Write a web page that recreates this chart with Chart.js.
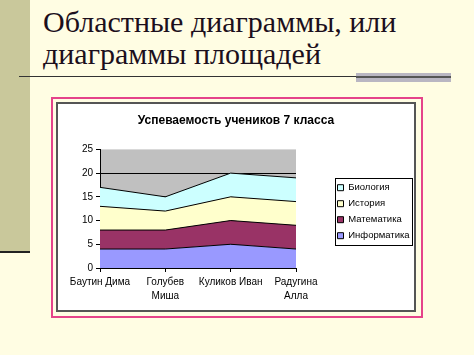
<!DOCTYPE html>
<html>
<head>
<meta charset="utf-8">
<script src="https://cdn.jsdelivr.net/npm/chart.js@4.4.1/dist/chart.umd.min.js"></script>
<style>
    html, body { margin: 0; padding: 0; }
    body { width: 474px; height: 355px; background: #fffde3; position: relative; overflow: hidden; }
    #side-bar { position: absolute; left: 0; top: 0; width: 30px; height: 251px; background: #c9c89b; border-bottom: 2px solid #222; }
    #slide-title { position: absolute; left: 43px; top: 6px; margin: 0; font-family: "Liberation Serif", "DejaVu Serif", serif; font-weight: normal; font-size: 30px; line-height: 32px; color: #1c0f1c; }
    #title-rule { position: absolute; left: 19px; top: 76px; width: 432px; height: 1px; background: #333; }
    #title-bar { position: absolute; left: 356px; top: 73px; width: 95px; height: 9px; background: #b9b6c2; }
    #title-bar-line { position: absolute; left: 356px; top: 76px; width: 95px; height: 2px; background: #555; }
    #frame { position: absolute; left: 51px; top: 97px; width: 372px; height: 221px; border: 2px solid #e5438a; box-sizing: border-box; }
    #chart-box { position: absolute; left: 56px; top: 102px; width: 360px; height: 210px; border: 2px solid #555; box-sizing: border-box; background: #fff; }
    #chart { position: absolute; left: 0; top: 0; }
</style>
</head>
<body>
<div id="side-bar"></div>
<div id="slide-title">Областные диаграммы, или<br>диаграммы площадей</div>
<div id="title-rule"></div>
<div id="title-bar"></div>
<div id="title-bar-line"></div>
<div id="frame"></div>
<div id="chart-box"><canvas id="chart" width="356" height="206"></canvas></div>
<script>
const students = [['Баутин Дима'], ['Голубев', 'Миша'], ['Куликов Иван'], ['Радугина', 'Алла']];
const informatika = [4, 4, 5, 4];
const matematika = [4, 4, 5, 5];
const istoriya = [5, 4, 5, 5];
const biologiya = [4, 3, 5, 5];
const yTicks = [0, 5, 10, 15, 20, 25];

const FONT = 'Arial, "Liberation Sans", sans-serif';

// grey plot background like the Excel chart
const plotBackground = {
    id: 'plotBackground',
    beforeDraw(chart) {
        const { ctx, chartArea } = chart;
        ctx.save();
        ctx.fillStyle = '#c0c0c0';
        ctx.fillRect(chartArea.left, chartArea.top, chartArea.right - chartArea.left, chartArea.bottom - chartArea.top);
        ctx.restore();
    }
};

// centre the title on the whole canvas, move the legend right of the plot and frame it
const legendBox = {
    id: 'legendBox',
    afterLayout(chart) {
        const title = chart.titleBlock;
        title.left = 0;
        title.right = chart.width;
        title.width = chart.width;

        const legend = chart.legend;
        const area = chart.chartArea;
        legend.left = area.right + 35;
        legend.right = legend.left + legend.width;
        legend.top = area.top + 3;
        legend.bottom = area.bottom + 3;
        legend.height = legend.bottom - legend.top;
    },
    afterDraw(chart) {
        const boxes = chart.legend.legendHitBoxes;
        if (!boxes || !boxes.length) return;
        const left = Math.min(...boxes.map(b => b.left)) - 3;
        const top = Math.min(...boxes.map(b => b.top)) - 5;
        const right = Math.max(...boxes.map(b => b.left + b.width)) + 2;
        const bottom = Math.max(...boxes.map(b => b.top + b.height)) + 5;
        const ctx = chart.ctx;
        ctx.save();
        ctx.strokeStyle = '#000';
        ctx.lineWidth = 1;
        ctx.strokeRect(Math.round(left) + 0.5, Math.round(top) + 0.5, Math.round(right - left), Math.round(bottom - top));
        ctx.restore();
    }
};

function series(label, data, color, fill) {
    return {
        label: label,
        data: data,
        backgroundColor: color,
        borderColor: '#000',
        borderWidth: 1,
        fill: fill,
        tension: 0,
        pointRadius: 0
    };
}

new Chart(document.getElementById('chart'), {
    type: 'line',
    data: {
        labels: students,
        datasets: [
            series('Информатика', informatika, '#9999ff', 'origin'),
            series('Математика', matematika, '#993366', '-1'),
            series('История', istoriya, '#ffffcc', '-1'),
            series('Биология', biologiya, '#ccffff', '-1')
        ]
    },
    options: {
        responsive: false,
        animation: false,
        layout: { padding: { left: 0, right: 118, top: 0, bottom: 0 } },
        plugins: {
            title: {
                display: true,
                text: 'Успеваемость учеников 7 класса',
                color: '#000',
                font: { family: FONT, size: 12, weight: 'bold' },
                padding: { top: 9, bottom: 22 }
            },
            legend: {
                position: 'chartArea',
                reverse: true,
                labels: {
                    color: '#000',
                    font: { family: FONT, size: 9.5 },
                    boxWidth: 6,
                    boxHeight: 6,
                    padding: 6.5
                }
            },
            tooltip: { enabled: false }
        },
        scales: {
            x: {
                offset: false,
                grid: { drawOnChartArea: false, color: '#000', tickLength: 4 },
                border: { color: '#000', width: 1 },
                ticks: {
                    color: '#000',
                    maxRotation: 0,
                    autoSkip: false,
                    padding: 3,
                    font: { family: FONT, size: 10, lineHeight: 1.4 }
                },
                afterFit(scale) { scale.height = 42; }
            },
            y: {
                stacked: true,
                min: 0,
                max: 25,
                afterBuildTicks(scale) { scale.ticks = yTicks.map(v => ({ value: v })); },
                grid: {
                    color: ctx => ctx.tick && ctx.tick.value === 25 ? 'rgba(0,0,0,0)' : '#000',
                    tickColor: '#000',
                    tickLength: 4
                },
                border: { color: '#000', width: 1 },
                ticks: {
                    color: '#000',
                    padding: 3,
                    font: { family: FONT, size: 10 }
                },
                afterFit(scale) { scale.width = 42; }
            }
        }
    },
    plugins: [plotBackground, legendBox]
});
</script>
</body>
</html>
